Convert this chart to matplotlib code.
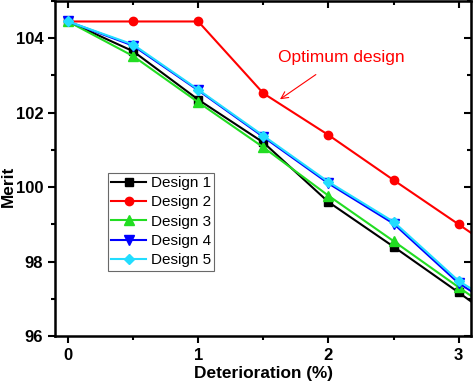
import matplotlib
matplotlib.use("Agg")
import matplotlib.pyplot as plt
from matplotlib.ticker import MultipleLocator

plt.rcParams['font.family'] = ['Liberation Sans', 'DejaVu Sans']

deterioration = [0, 0.5, 1, 1.5, 2, 2.5, 3, 3.5]
design1 = [104.45, 103.65, 102.35, 101.2, 99.6, 98.4, 97.17, 95.9]
design2 = [104.45, 104.45, 104.45, 102.52, 101.4, 100.19, 99.0, 97.8]
design3 = [104.45, 103.52, 102.28, 101.07, 99.77, 98.55, 97.31, 96.1]
design4 = [104.45, 103.8, 102.6, 101.35, 100.1, 99.02, 97.42, 96.3]
design5 = [104.45, 103.83, 102.62, 101.38, 100.14, 99.07, 97.48, 96.4]
labels = ["Design 1", "Design 2", "Design 3", "Design 4", "Design 5"]

fig = plt.figure(figsize=(4.74, 3.81), dpi=100)
ax = fig.add_axes([55/474, 1 - 336/381, (471-55)/474, (336-1)/381])

styles = [
    (design1, 'black', 's', 5.5),
    (design2, '#ff0000', 'o', 6),
    (design3, '#22dd22', '^', 6.5),
    (design4, '#0000ff', 'v', 6.5),
    (design5, '#22ddff', 'D', 5.5),
]
for (vals, c, m, ms), lab in zip(styles, labels):
    ax.plot(deterioration, vals, color=c, marker=m, markersize=ms, lw=1.5, label=lab)

ax.set_xlim(-0.1, 3.095)
ax.set_ylim(96, 105)
ax.xaxis.set_major_locator(MultipleLocator(1))
ax.xaxis.set_minor_locator(MultipleLocator(0.5))
ax.yaxis.set_major_locator(MultipleLocator(2))
ax.yaxis.set_minor_locator(MultipleLocator(1))
ax.tick_params(which='both', direction='out', width=1.5, labelsize=12)
ax.tick_params(which='major', length=5)
ax.tick_params(which='minor', length=3)
for lab in ax.get_xticklabels() + ax.get_yticklabels():
    lab.set_fontweight('bold')
for s in ax.spines.values():
    s.set_linewidth(1.8)

# mirrored inward ticks on top and right
axt = ax.secondary_xaxis('top')
axt.xaxis.set_major_locator(MultipleLocator(1))
axt.xaxis.set_minor_locator(MultipleLocator(0.5))
axt.tick_params(which='both', direction='in', width=1.5, labeltop=False)
axt.tick_params(which='major', length=5)
axt.tick_params(which='minor', length=3)
axr = ax.secondary_yaxis('right')
axr.yaxis.set_major_locator(MultipleLocator(2))
axr.yaxis.set_minor_locator(MultipleLocator(1))
axr.tick_params(which='both', direction='in', width=1.5, labelright=False)
axr.tick_params(which='major', length=5)
axr.tick_params(which='minor', length=3)

ax.set_xlabel("Deterioration (%)", fontsize=12.4, fontweight='bold', labelpad=2)
ax.set_ylabel("Merit", fontsize=12.4, fontweight='bold')
ax.yaxis.set_label_coords(-0.094, 0.448)

leg = ax.legend(loc='upper left', bbox_to_anchor=((108-55)/416, 1 - (173-1)/335),
                fontsize=11, frameon=True, fancybox=False, edgecolor='#444444',
                borderpad=0.2, labelspacing=0.35, handlelength=2.3, handletextpad=0.3,
                borderaxespad=0)
leg.get_frame().set_linewidth(0.8)

ax.annotate("Optimum design", xy=(1.628, 102.36), xytext=(2.097, 103.49),
            color='#ff0000', fontsize=12.5, ha='center', va='center',
            arrowprops=dict(arrowstyle='->', color='#ff0000', lw=0.8, shrinkA=9, shrinkB=0))

fig.savefig("out.png", dpi=100)
